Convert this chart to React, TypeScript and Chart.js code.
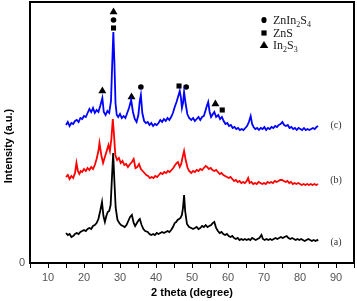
import React, { useEffect, useRef } from 'react';
import { Chart, registerables } from 'chart.js';
Chart.register(...registerables);

// 2θ (degree), intensity (a.u.)
const curveA: [number, number][] = [[15,30],[15.5,28],[16,29],[16.5,26],[17,27],[17.5,29],[18,30],[18.5,29],[19,31],[19.5,32],[20,33],[20.5,32],[21,34],[21.5,35],[22,34],[22.5,37],[23,38],[23.5,40],[24,44],[24.5,52],[25,61],[25.4,47],[25.8,41],[26.2,47],[26.6,51],[27,52],[27.4,58],[27.8,88],[28.1,110],[28.4,85],[28.8,55],[29.3,43],[29.8,40],[30.3,38],[30.8,37],[31.3,36],[31.8,38],[32.3,42],[32.8,46],[33.3,48],[33.8,40],[34.2,37],[34.7,40],[35.2,43],[35.5,44],[36,38],[36.5,34],[37,32],[37.7,31],[38.2,29],[38.7,28],[39.2,29],[39.7,28],[40.2,30],[40.7,29],[41.2,30],[41.7,31],[42.2,30],[42.7,31],[43.2,32],[43.7,31],[44.2,33],[44.7,36],[45.2,40],[45.6,41],[46,43],[46.4,44],[46.8,45],[47.2,48],[47.5,55],[47.8,68],[48.1,52],[48.6,39],[49.2,36],[49.8,35],[50.3,34],[50.8,35],[51.3,36],[51.8,34],[52.3,35],[52.8,37],[53.3,36],[53.8,38],[54.3,36],[54.8,37],[55.3,38],[55.8,40],[56.2,41],[56.7,35],[57.2,32],[57.7,30],[58.2,31],[58.7,29],[59.2,28],[59.7,29],[60.2,27],[60.7,26],[61.2,27],[61.7,25],[62.2,24],[62.7,25],[63.2,23],[63.7,24],[64.2,23],[64.7,24],[65.2,23],[65.7,24],[66.2,23],[66.7,25],[67.2,24],[67.7,23],[68.2,24],[68.7,25],[69.3,28],[69.7,24],[70.2,23],[70.7,24],[71.2,23],[71.7,24],[72.2,23],[72.7,24],[73.2,25],[73.7,24],[74.2,25],[74.7,26],[75.2,25],[75.7,26],[76.3,27],[76.8,25],[77.3,24],[77.8,25],[78.3,24],[78.8,23],[79.3,24],[79.8,23],[80.3,24],[80.8,23],[81.3,22],[81.8,23],[82.3,24],[82.8,23],[83.3,22],[83.8,23],[84.3,22],[84.8,23],[85,22]];

const curveB: [number, number][] = [[15,86],[15.5,88],[16,84],[16.5,87],[17,85],[17.5,90],[17.9,100],[18.3,92],[18.7,89],[19.1,92],[19.5,91],[20,94],[20.5,92],[21,95],[21.5,93],[22,96],[22.5,94],[23,98],[23.5,104],[24,112],[24.3,120],[24.8,108],[25.3,100],[25.8,106],[26.3,112],[26.8,118],[27.2,112],[27.6,124],[28,144],[28.3,130],[28.7,108],[29.2,103],[29.7,105],[30.2,100],[30.7,102],[31.2,98],[31.7,99],[32.2,96],[32.8,99],[33.3,101],[33.8,104],[34.3,95],[34.8,96],[35.3,99],[35.8,94],[36.3,92],[36.8,90],[37.3,88],[37.8,87],[38.3,85],[38.8,86],[39.3,85],[39.8,87],[40.3,86],[40.8,88],[41.3,90],[41.8,89],[42.3,91],[42.8,90],[43.3,92],[43.8,91],[44.3,93],[44.8,95],[45.3,98],[45.8,100],[46.1,101],[46.6,96],[47,99],[47.4,106],[47.8,112],[48.2,104],[48.7,96],[49.2,92],[49.8,90],[50.3,92],[50.8,91],[51.3,93],[51.8,92],[52.3,94],[52.8,93],[53.3,95],[53.8,97],[54.2,96],[54.7,94],[55.2,95],[55.7,93],[56.2,92],[56.7,93],[57.2,91],[57.7,89],[58.2,90],[58.7,88],[59.2,87],[59.7,86],[60.2,85],[60.7,86],[61.2,84],[61.7,82],[62.2,83],[62.7,81],[63.2,82],[63.7,80],[64.2,81],[64.7,80],[65.2,82],[65.6,85],[66,80],[66.5,81],[67,79],[67.5,80],[68,79],[68.5,81],[69,80],[69.5,79],[70,80],[70.5,79],[71,81],[71.5,80],[72,81],[72.5,80],[73,82],[73.5,81],[74,82],[74.5,83],[75,83],[75.5,82],[76,81],[76.5,82],[77,80],[77.5,81],[78,79],[78.5,80],[79,79],[79.5,80],[80,79],[80.5,78],[81,79],[81.5,78],[82,79],[82.5,78],[83,79],[83.5,78],[84,79],[84.5,78],[85,79]];

const curveC: [number, number][] = [[15,138],[15.5,141],[16,137],[16.5,140],[17,139],[17.5,142],[18,143],[18.5,141],[19,145],[19.5,144],[20,147],[20.5,146],[21,150],[21.5,154],[22,151],[22.5,155],[23,150],[23.5,153],[24,151],[24.5,157],[25.1,165],[25.5,151],[26,148],[26.5,152],[27,150],[27.5,162],[27.8,195],[28.15,231],[28.45,200],[28.75,160],[29.1,148],[29.5,146],[30,149],[30.5,145],[31,147],[31.5,145],[32,150],[32.5,155],[33.1,163],[33.6,151],[34.1,144],[34.6,141],[35.1,148],[35.5,162],[35.8,168],[36.2,150],[36.7,142],[37.2,140],[37.7,141],[38.2,138],[38.7,140],[39.2,137],[39.7,139],[40.2,138],[40.7,140],[41.2,143],[41.7,141],[42.2,144],[42.7,142],[43.2,145],[43.7,143],[44.2,146],[44.7,150],[45.2,156],[45.7,161],[46.2,167],[46.6,172],[46.9,166],[47.2,155],[47.5,160],[47.8,171],[48.2,160],[48.7,149],[49.2,145],[49.8,143],[50.3,145],[50.8,142],[51.3,144],[51.8,146],[52.3,143],[52.8,146],[53.3,147],[53.8,153],[54.2,158],[54.5,161],[54.9,151],[55.3,146],[55.8,149],[56.2,151],[56.7,146],[57.3,148],[57.8,144],[58.3,146],[58.8,142],[59.3,139],[59.8,140],[60.3,137],[60.8,138],[61.3,135],[61.8,136],[62.3,134],[62.8,135],[63.3,133],[63.8,134],[64.3,133],[64.8,135],[65.3,137],[65.8,141],[66.3,147],[66.7,139],[67.1,136],[67.6,134],[68.1,135],[68.6,133],[69.1,135],[69.6,134],[70.1,136],[70.6,133],[71.1,135],[71.6,134],[72.1,136],[72.6,135],[73.1,137],[73.6,136],[74.1,138],[74.6,139],[75.1,141],[75.6,138],[76.1,137],[76.6,138],[77.1,135],[77.6,136],[78.1,134],[78.6,135],[79.1,133],[79.6,135],[80.1,134],[80.6,133],[81.1,135],[81.6,133],[82.1,134],[82.6,133],[83.1,134],[83.6,135],[84.1,134],[84.6,136],[85,137]];

// phase markers above peaks: [2θ, height]
const peaksZnIn2S4: [number, number][] = [[28.2, 243], [35.8, 176], [48.4, 176]];
const peaksZnS: [number, number][] = [[28.2, 235], [46.4, 177], [58.4, 153]];
const peaksIn2S3: [number, number][] = [[28.2, 251], [25.1, 172], [33.2, 166], [56.5, 159]];

const sampleTags = ['(a)', '(b)', '(c)'];
const sampleTagY = [21, 83, 138];
const sampleColors = ['#000000', '#ff0000', '#0000ff'];

const xTitle = '2 theta (degree)';
const yTitle = 'Intensity (a.u.)';
const yTickValues = [0];

// legend entries: [marker, text segments (text, isSubscript)]
const legendMarkers = ['circle', 'rect', 'triangle'];
const legendTexts: [string, boolean][][] = [
  [['ZnIn', false], ['2', true], ['S', false], ['4', true]],
  [['ZnS', false]],
  [['In', false], ['2', true], ['S', false], ['3', true]],
];

const SERIF = '"Liberation Serif", "Times New Roman", serif';
const SANS = '"Liberation Sans", Arial, sans-serif';

function drawMarker(ctx: CanvasRenderingContext2D, kind: string, x: number, y: number) {
  ctx.beginPath();
  if (kind === 'circle') {
    ctx.ellipse(x, y, 2.6, 3.1, 0, 0, Math.PI * 2);
  } else if (kind === 'rect') {
    ctx.rect(x - 2.6, y - 2.6, 5.2, 5.2);
  } else {
    ctx.moveTo(x, y - 4);
    ctx.lineTo(x + 4.3, y + 3);
    ctx.lineTo(x - 4.3, y + 3);
    ctx.closePath();
  }
  ctx.fill();
}

const overlayPlugin = {
  id: 'overlay',
  afterDraw(chart: any) {
    const { ctx, chartArea: ca, scales } = chart;
    ctx.save();
    ctx.strokeStyle = '#000';
    ctx.lineWidth = 2;
    ctx.strokeRect(ca.left, ca.top, ca.right - ca.left, ca.bottom - ca.top);

    // y title
    ctx.save();
    ctx.translate(9, 146);
    ctx.rotate(-Math.PI / 2);
    ctx.font = 'bold 11px ' + SANS;
    ctx.textAlign = 'center';
    ctx.textBaseline = 'middle';
    ctx.fillStyle = '#000';
    ctx.fillText(yTitle, 0, 0);
    ctx.restore();

    // sample tags
    ctx.font = '10px ' + SERIF;
    ctx.fillStyle = '#333';
    ctx.textAlign = 'center';
    ctx.textBaseline = 'middle';
    sampleTags.forEach((t, i) => {
      ctx.fillText(t, scales.x.getPixelForValue(90), scales.y.getPixelForValue(sampleTagY[i]));
    });

    // legend
    ctx.textAlign = 'left';
    ctx.textBaseline = 'alphabetic';
    const mx = 264;
    const tx = 273;
    const rows = [20, 33, 45];
    legendTexts.forEach((segs, i) => {
      ctx.fillStyle = '#000';
      drawMarker(ctx, legendMarkers[i], mx, rows[i]);
      let x = tx;
      const base = rows[i] + 4;
      ctx.fillStyle = '#222';
      segs.forEach(([s, sub]) => {
        ctx.font = (sub ? '8px ' : '12px ') + SERIF;
        ctx.fillText(s, x, sub ? base + 2.5 : base);
        x += ctx.measureText(s).width;
      });
    });
    ctx.restore();
  },
};

export default function App() {
  const ref = useRef<HTMLCanvasElement | null>(null);
  useEffect(() => {
    if (!ref.current) return;
    Chart.defaults.font.family = SANS;
    const lineDs = (d: [number, number][], color: string) => ({
      type: 'line' as const,
      data: d.map(([x, y]) => ({ x, y })),
      borderColor: color,
      backgroundColor: color,
      borderWidth: 1.8,
      pointRadius: 0,
      tension: 0,
    });
    const markDs = (d: [number, number][], style: string, r: number) => ({
      type: 'scatter' as const,
      data: d.map(([x, y]) => ({ x, y })),
      pointStyle: style,
      pointRadius: r,
      pointBackgroundColor: '#000',
      pointBorderColor: '#000',
      pointBorderWidth: 0,
      showLine: false,
    });
    const chart = new Chart(ref.current, {
      type: 'line',
      data: {
        datasets: [
          lineDs(curveA, sampleColors[0]),
          lineDs(curveB, sampleColors[1]),
          lineDs(curveC, sampleColors[2]),
          markDs(peaksZnIn2S4, 'circle', 2.8),
          markDs(peaksZnS, 'rect', 3.6),
          markDs(peaksIn2S3, 'triangle', 4.6),
        ] as any,
      },
      options: {
        animation: false,
        responsive: false,
        events: [],
        layout: { autoPadding: false, padding: { left: 0, right: 2, top: 2, bottom: 0 } },
        plugins: { legend: { display: false }, tooltip: { enabled: false } },
        scales: {
          x: {
            type: 'linear',
            min: 5,
            max: 95,
            afterFit: (s: any) => { s.height = 38; },
            border: { display: false },
            grid: { display: true, drawOnChartArea: false, drawTicks: true, tickLength: 5, color: '#000', lineWidth: 1 },
            ticks: {
              stepSize: 5,
              autoSkip: false,
              maxRotation: 0,
              padding: 3,
              color: '#555',
              font: { size: 11 },
              callback: (v: any) => (v % 10 === 0 && v >= 10 && v <= 90 ? String(v) : ''),
            },
            title: { display: true, text: xTitle, color: '#000', font: { size: 11, weight: 'bold' }, padding: { top: 0, bottom: 1 } },
          },
          y: {
            type: 'linear',
            min: 0,
            max: 261,
            afterBuildTicks: (s: any) => { s.ticks = yTickValues.map((value) => ({ value })); },
            afterFit: (s: any) => { s.width = 30; s.paddingTop = 0; },
            border: { display: false },
            grid: { display: false, drawTicks: false },
            ticks: {
              padding: 5,
              color: '#555',
              font: { size: 11 },
              callback: (v: any) => String(v),
            },
          },
        },
      } as any,
      plugins: [overlayPlugin],
    });
    return () => chart.destroy();
  }, []);
  return (
    <canvas
      ref={ref}
      width={357}
      height={301}
      style={{ position: 'fixed', left: 0, top: 0, width: 357, height: 301, display: 'block' }}
    />
  );
}
